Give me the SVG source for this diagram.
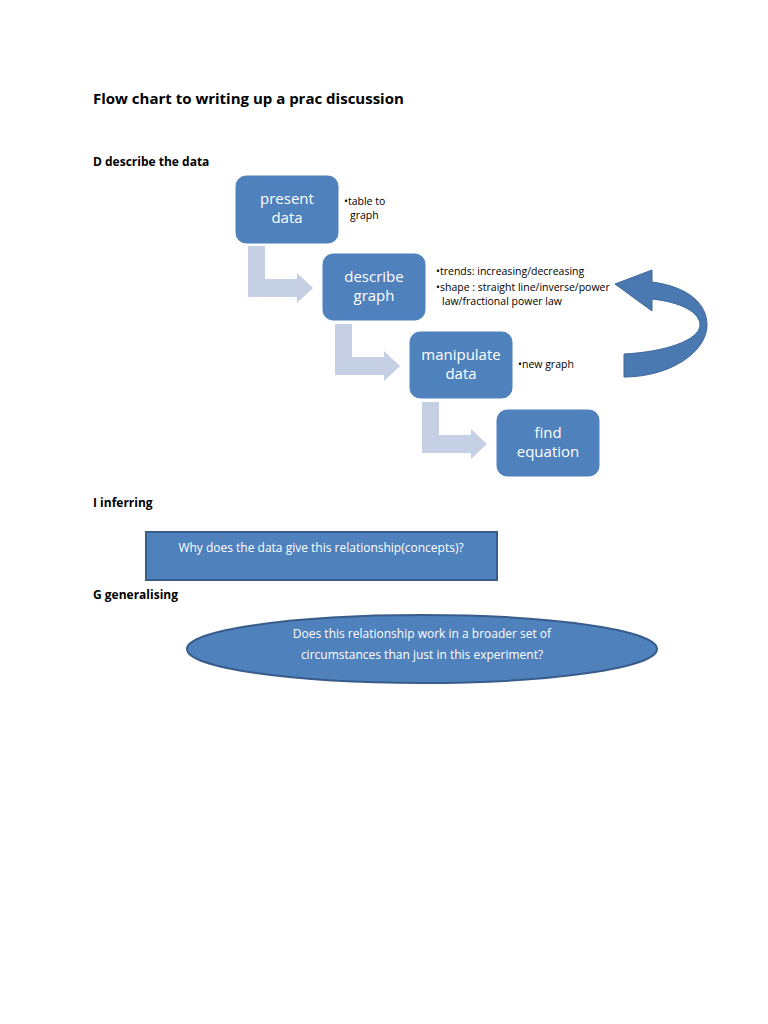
<svg xmlns="http://www.w3.org/2000/svg" width="768" height="1024" viewBox="0 0 768 1024">
<style>
.h{font-family:"Open Sans","Liberation Sans",sans-serif;font-weight:bold;fill:#000}
.n{fill:#4f81bd;stroke:#4f81bd}
.nt{font-family:"Open Sans","Liberation Sans",sans-serif;font-size:15px;fill:#fff;text-anchor:middle}
.b{font-family:"Open Sans","Liberation Sans",sans-serif;font-size:10.5px;fill:#000}
.ar{fill:#c5d0e4}
.w{font-family:"Open Sans","Liberation Sans",sans-serif;font-size:12px;fill:#fff;text-anchor:middle}
</style>
<rect width="768" height="1024" fill="#fff"/>
<text class="h" x="93" y="104" font-size="15">Flow chart to writing up a prac discussion</text>
<text class="h" x="93" y="166" font-size="12">D describe the data</text>
<text class="h" x="93" y="507" font-size="12">I inferring</text>
<text class="h" x="93" y="599" font-size="12">G generalising</text>
<g id="connectors">
<path class="ar" d="M248,246h17v33h32v-6l16,15-16,15v-6h-49z"/>
<path class="ar" d="M335,324h17v33h32v-6l16,15-16,15v-6h-49z"/>
<path class="ar" d="M422,402h17v33h32v-6l16,15-16,15v-6h-49z"/>
<path fill="#4a78b0" stroke="#3d679c" d="M624,354 C665,352 700,340 700,325 C700,312 680,302 652,299 L652,311 L615,284 L652,270 L652,282 C690,287 707,305 707,325 C707,352 670,377 624,377 Z"/>
</g>
<g id="present"><rect class="n" x="236" y="176" width="102" height="67" rx="10"/><text class="nt" x="287" y="204">present</text><text class="nt" x="287" y="223">data</text>
<text class="b" x="344" y="205">•table to</text><text class="b" x="350" y="219">graph</text></g>
<g id="describe"><rect class="n" x="323" y="254" width="102" height="66" rx="10"/><text class="nt" x="374" y="282">describe</text><text class="nt" x="374" y="301">graph</text>
<text class="b" x="436" y="275">•trends: increasing/decreasing</text><text class="b" x="436" y="291">•shape : straight line/inverse/power</text><text class="b" x="442" y="305">law/fractional power law</text></g>
<g id="manipulate"><rect class="n" x="410" y="332" width="102" height="66" rx="10"/><text class="nt" x="461" y="360">manipulate</text><text class="nt" x="461" y="379">data</text>
<text class="b" x="518" y="368">•new graph</text></g>
<g id="find"><rect class="n" x="497" y="410" width="102" height="66" rx="10"/><text class="nt" x="548" y="438">find</text><text class="nt" x="548" y="457">equation</text></g>
<g id="inferring"><rect fill="#4f81bd" stroke="#385d8a" stroke-width="2" x="146" y="532" width="351" height="48"/><text class="w" x="321" y="552">Why does the data give this relationship(concepts)?</text></g>
<g id="generalising"><ellipse fill="#4f81bd" stroke="#385d8a" stroke-width="2" cx="422" cy="649" rx="235" ry="34"/><text class="w" x="422" y="638">Does this relationship work in a broader set of</text><text class="w" x="422" y="659">circumstances than just in this experiment?</text></g>
</svg>
